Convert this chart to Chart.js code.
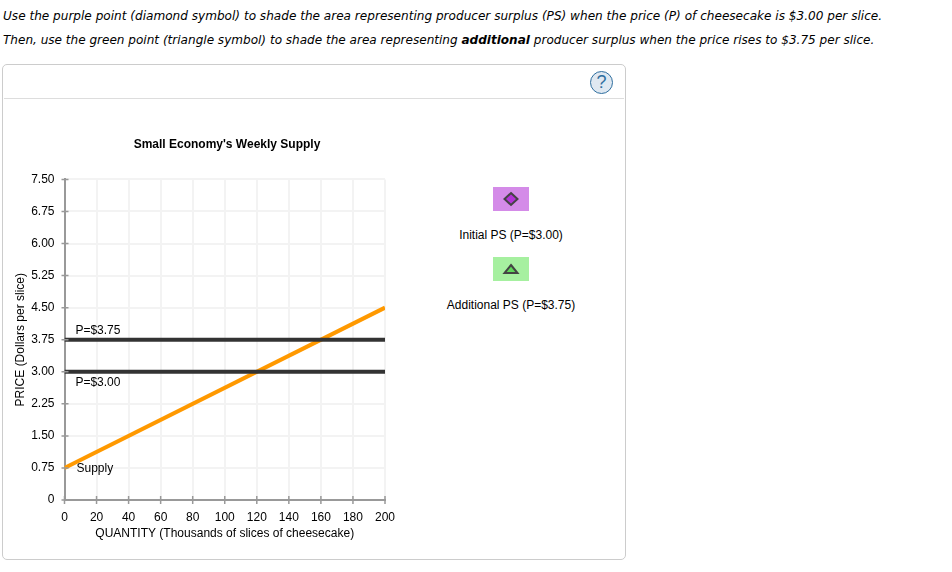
<!DOCTYPE html>
<html>
<head>
<meta charset="utf-8">
<title>Small Economy's Weekly Supply</title>
<script src="https://cdn.jsdelivr.net/npm/chart.js@4"></script>
<style>
  html, body { margin: 0; padding: 0; background: #fff; }
  body { width: 952px; height: 572px; position: relative; overflow: hidden; font-family: "Liberation Sans", Arial, sans-serif; color: #000; }
  .question { position: absolute; left: 3px; margin: 0; font: italic 12.05px "DejaVu Sans", Verdana, sans-serif; white-space: nowrap; line-height: 16px; }
  #panel { position: absolute; left: 2px; top: 64px; width: 622px; height: 494px; border: 1px solid #cccccc; border-radius: 5px; }
  #divider { position: absolute; left: 4px; top: 98px; width: 620px; height: 1px; background: #dddddd; }
  #help { position: absolute; left: 590px; top: 71px; width: 21px; height: 21px; border: 1.5px solid #2f6f9f; border-radius: 50%; background: #dfe8f1; color: #2f6f9f; font: 18px/21px "Liberation Sans", Arial, sans-serif; text-align: center; }
  .swatch { position: absolute; left: 493px; width: 36px; height: 24px; }
  .swatch svg { display: block; }
  .key { position: absolute; left: 411px; width: 200px; text-align: center; font-size: 12px; line-height: 14px; white-space: nowrap; }
  #wrap { position: absolute; left: 0; top: 0; width: 454px; height: 572px; }
</style>
</head>
<body>
<p class="question" style="top:8px;font-size:12.09px">Use the purple point (diamond symbol) to shade the area representing producer surplus (PS) when the price (P) of cheesecake is $3.00 per slice.</p>
<p class="question" style="top:32px">Then, use the green point (triangle symbol) to shade the area representing <b>additional</b> producer surplus when the price rises to $3.75 per slice.</p>
<div id="panel"></div>
<div id="divider"></div>
<div id="help">?</div>
<div class="swatch" style="top:187px;background:#d48be8">
  <svg width="36" height="24"><polygon points="18,6 24.5,12 18,18 11.5,12" fill="#b233d6" stroke="#444" stroke-width="2"/></svg>
</div>
<div class="key" style="top:228px">Initial PS (P=$3.00)</div>
<div class="swatch" style="top:257px;background:#a6f0a0">
  <svg width="36" height="24"><polygon points="18,8 24.5,16 11.5,16" fill="#5fd65a" stroke="#444" stroke-width="2"/></svg>
</div>
<div class="key" style="top:298px">Additional PS (P=$3.75)</div>
<div id="wrap"><canvas id="supplyChart" width="454" height="572"></canvas></div>
<script>
var priceTicks = [0, 0.75, 1.5, 2.25, 3, 3.75, 4.5, 5.25, 6, 6.75, 7.5];
var quantityTicks = [0, 20, 40, 60, 80, 100, 120, 140, 160, 180, 200];

var supplyQuantity = [0, 200];
var supplyPrice = [0.75, 4.5];
var priceLineQuantity = [0, 200];
var priceHigh = [3.75, 3.75];
var priceLow = [3, 3];

// text sitting next to the lines, in data units
var lineLabels = [
    { text: 'P=$3.75', x: 6.8, y: 3.95 },
    { text: 'P=$3.00', x: 6.8, y: 2.74 },
    { text: 'Supply', x: 7.5, y: 0.74 }
];

function toPoints(xs, ys) {
    return xs.map(function (x, i) { return { x: x, y: ys[i] }; });
}

// ticks cross the axis lines, and the labels sit on the scales
var crossTicks = {
    id: 'crossTicks',
    afterDatasetsDraw: function (chart) {
        var c = chart.ctx, xs = chart.scales.x, ys = chart.scales.y, a = chart.chartArea;
        c.save();
        c.strokeStyle = '#999999';
        c.lineWidth = 1.5;
        c.beginPath();
        priceTicks.forEach(function (v) {
            var p = ys.getPixelForValue(v);
            c.moveTo(a.left - 3, p);
            c.lineTo(a.left + 4, p);
        });
        quantityTicks.forEach(function (v) {
            var p = xs.getPixelForValue(v);
            c.moveTo(p, a.bottom - 4);
            c.lineTo(p, a.bottom + 4);
        });
        c.stroke();
        c.fillStyle = '#000';
        c.font = '12px "Liberation Sans", Arial, sans-serif';
        c.textBaseline = 'middle';
        lineLabels.forEach(function (l) {
            c.fillText(l.text, xs.getPixelForValue(l.x), ys.getPixelForValue(l.y));
        });
        c.restore();
    }
};

var font = { family: '"Liberation Sans", Arial, sans-serif', size: 12 };

var supplyChart = new Chart(document.getElementById('supplyChart').getContext('2d'), {
    type: 'scatter',
    data: {
        datasets: [{
            label: 'P=$3.75',
            data: toPoints(priceLineQuantity, priceHigh),
            showLine: true,
            borderColor: '#333333',
            borderWidth: 4,
            pointRadius: 0
        }, {
            label: 'P=$3.00',
            data: toPoints(priceLineQuantity, priceLow),
            showLine: true,
            borderColor: '#333333',
            borderWidth: 4,
            pointRadius: 0
        }, {
            label: 'Supply',
            data: toPoints(supplyQuantity, supplyPrice),
            showLine: true,
            borderColor: '#ff9900',
            borderWidth: 4,
            pointRadius: 0
        }]
    },
    options: {
        responsive: false,
        animation: false,
        layout: { padding: { top: 137, left: 12, right: 12, bottom: 31 } },
        plugins: {
            legend: { display: false },
            tooltip: { enabled: false },
            title: {
                display: true,
                text: "Small Economy's Weekly Supply",
                color: '#000',
                font: { family: font.family, size: 12, weight: 'bold' },
                padding: { top: 0, bottom: 28 }
            }
        },
        scales: {
            x: {
                type: 'linear',
                min: 0,
                max: 200,
                afterBuildTicks: function (scale) {
                    scale.ticks = quantityTicks.map(function (v) { return { value: v }; });
                },
                afterFit: function (scale) { scale.height = 41; },
                grid: { color: '#f3f3f3', lineWidth: 2, drawTicks: false },
                border: { color: '#999999', width: 2 },
                ticks: { color: '#000', font: font, padding: 10, maxRotation: 0, autoSkip: false },
                title: { display: true, text: 'QUANTITY (Thousands of slices of cheesecake)', color: '#000', font: font, padding: { top: 3, bottom: 0 } }
            },
            y: {
                type: 'linear',
                min: 0,
                max: 7.5,
                afterBuildTicks: function (scale) {
                    scale.ticks = priceTicks.map(function (v) { return { value: v }; });
                },
                afterFit: function (scale) { scale.width = 52.5; },
                grid: { color: '#f3f3f3', lineWidth: 2, drawTicks: false },
                border: { color: '#999999', width: 2 },
                ticks: {
                    color: '#000',
                    font: font,
                    padding: 10,
                    autoSkip: false,
                    callback: function (v) { return v === 0 ? '0' : v.toFixed(2); }
                },
                title: { display: true, text: 'PRICE (Dollars per slice)', color: '#000', font: font, padding: { top: 1, bottom: 0 } }
            },
            // empty right-hand axis, holds the plot's right edge so the title centres like the original
            spacer: {
                type: 'linear',
                axis: 'y',
                position: 'right',
                afterFit: function (scale) { scale.width = 57; },
                grid: { display: false },
                border: { display: false },
                ticks: { display: false }
            }
        }
    },
    plugins: [crossTicks]
});
</script>
</body>
</html>
